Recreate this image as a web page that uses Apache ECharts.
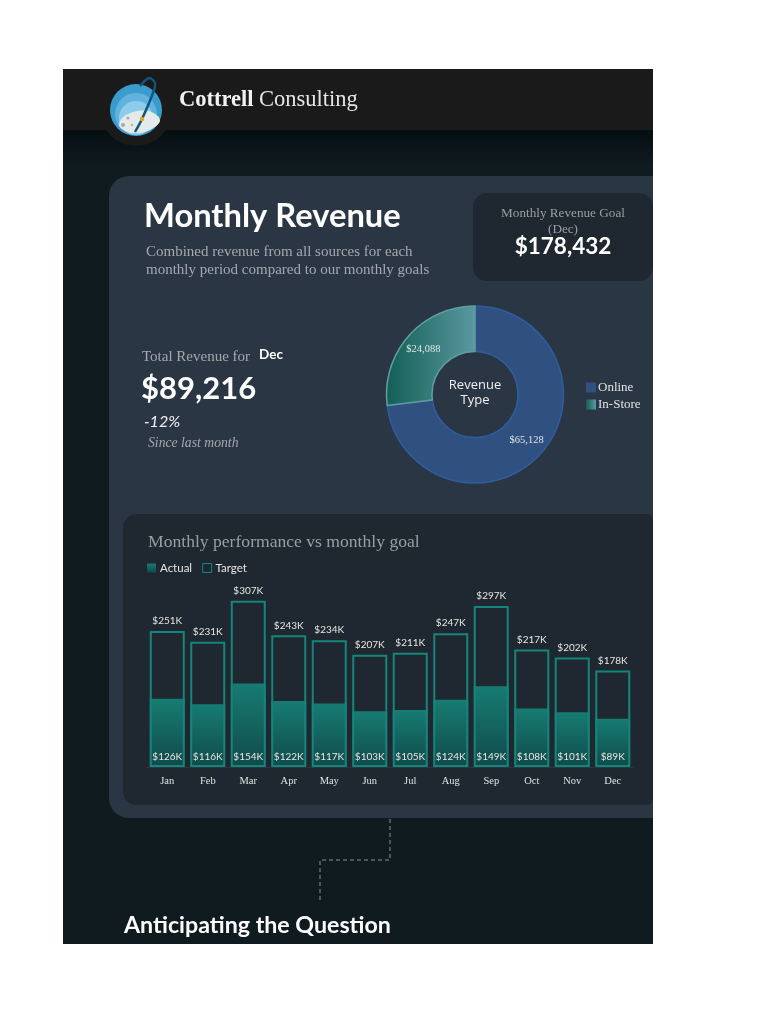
<!DOCTYPE html>
<html>
<head>
<meta charset="utf-8">
<title>Monthly Revenue</title>
<script src="https://cdn.jsdelivr.net/npm/echarts@6/dist/echarts.min.js"></script>
<style>
  html, body { margin: 0; padding: 0; background: #fff; }
  #chart-container { width: 768px; height: 1024px; }
</style>
</head>
<body>
<div id="chart-container"></div>
<script>
const months = ['Jan', 'Feb', 'Mar', 'Apr', 'May', 'Jun', 'Jul', 'Aug', 'Sep', 'Oct', 'Nov', 'Dec'];
const actualValues = [126, 116, 154, 122, 117, 103, 105, 124, 149, 108, 101, 89];
const targetValues = [251, 231, 307, 243, 234, 207, 211, 247, 297, 217, 202, 178];
const revenueTypes = ['Online', 'In-Store'];
const revenueValues = [65128, 24088];

const sansFont = 'Lato, "Open Sans", sans-serif';
const serifFont = '"Liberation Serif", serif';

var dom = document.getElementById('chart-container');
var myChart = echarts.init(dom);

function txt(text, x, y, font, fill, align) {
    return {
        type: 'text',
        z: 5,
        silent: true,
        style: {
            text: text,
            x: x,
            y: y,
            font: font,
            fill: fill,
            textAlign: align || 'left',
            textVerticalAlign: 'middle'
        }
    };
}

function box(x, y, w, h, r, fill) {
    return {
        type: 'rect',
        z: 1,
        silent: true,
        shape: { x: x, y: y, width: w, height: h, r: r },
        style: { fill: fill }
    };
}

function disc(cx, cy, r, fill) {
    return {
        type: 'circle',
        z: 3,
        silent: true,
        shape: { cx: cx, cy: cy, r: r },
        style: { fill: fill }
    };
}

const tealGradient = new echarts.graphic.LinearGradient(0, 0, 0, 1, [
    { offset: 0, color: '#167c72' },
    { offset: 1, color: '#114a4b' }
]);
const storeGradient = new echarts.graphic.LinearGradient(0, 0, 1, 0, [
    { offset: 0, color: '#125f55' },
    { offset: 1, color: '#5b99a1' }
]);

const backgroundParts = [
    box(63, 69, 590, 875, 0, '#101b20'),
    {
        type: 'rect',
        z: 1,
        silent: true,
        shape: { x: 63, y: 130, width: 590, height: 36 },
        style: {
            fill: new echarts.graphic.LinearGradient(0, 0, 0, 1, [
                { offset: 0, color: '#050e11' },
                { offset: 1, color: '#101b20' }
            ])
        }
    },
    box(63, 69, 590, 61, 0, '#1a1a1a'),
    disc(136, 110, 36, '#1a1a1a'),
    box(109, 176, 544, 642, [20, 0, 0, 20], '#2b3645'),
    box(123, 514, 530, 291, [14, 6, 6, 14], '#1f2831'),
    box(473, 193, 180, 88, 14, '#1f2831')
];

// little planet logo in the header
const logoParts = [
    disc(136, 110, 26, '#3a9ccd'),
    disc(136, 114, 21, '#5fb3dd'),
    disc(136, 118, 17, '#8fcbea'),
    {
        type: 'polygon',
        z: 3,
        silent: true,
        shape: { points: [[119, 124], [128, 114], [148, 111], [160, 120], [150, 130], [136, 133], [125, 131]], smooth: 0.4 },
        style: { fill: '#e4e9ea' }
    },
    disc(128, 118, 1.5, '#a9a9a9'),
    disc(123, 125, 2, '#a9a9a9'),
    disc(132, 125, 1.2, '#b5b5b5'),
    {
        type: 'polyline',
        z: 3,
        silent: true,
        shape: { points: [[135, 132], [142, 119], [153, 93], [155, 83], [149, 78], [140, 86]], smooth: 0.3 },
        style: { fill: 'none', stroke: '#10567a', lineWidth: 2.5 }
    },
    disc(142, 119, 2.2, '#e0a32e')
];

const textParts = [
    txt('Cottrell', 179, 100, 'bold 22.5px ' + serifFont, '#f2f2f2'),
    txt('Consulting', 259, 100, '22.5px ' + serifFont, '#e6e6e6'),
    txt('Monthly Revenue', 144, 216, 'bold 32.7px ' + sansFont, '#ffffff'),
    txt('Combined revenue from all sources for each', 146, 252, '15px ' + serifFont, '#a4a8ad'),
    txt('monthly period compared to our monthly goals', 146, 270, '15px ' + serifFont, '#a4a8ad'),
    txt('Monthly Revenue Goal', 563, 214, '13.2px ' + serifFont, '#9a9ea3', 'center'),
    txt('(Dec)', 563, 230, '13.2px ' + serifFont, '#9a9ea3', 'center'),
    txt('$178,432', 563, 247, 'bold 22.5px ' + sansFont, '#ffffff', 'center'),
    txt('Total Revenue for', 142, 357, '15px ' + serifFont, '#a4a8ad'),
    txt('Dec', 259, 355, 'bold 13.5px ' + sansFont, '#ffffff'),
    txt('$89,216', 141, 389, 'bold 31px ' + sansFont, '#ffffff'),
    txt('-12%', 144, 422, 'italic 16px ' + sansFont, '#f0f0f0'),
    txt('Since last month', 148, 443, 'italic 13.7px ' + serifFont, '#a4a8ad'),
    txt('Revenue', 475, 385, '13px "Open Sans", sans-serif', '#f0f0f0', 'center'),
    txt('Type', 475, 400, '13px "Open Sans", sans-serif', '#f0f0f0', 'center'),
    txt('Monthly performance vs monthly goal', 148, 542, '17.6px ' + serifFont, '#9a9ea3'),
    txt('Anticipating the Question', 124, 926, 'bold 23.2px ' + sansFont, '#ffffff')
];

const connector = {
    type: 'polyline',
    z: 2,
    silent: true,
    shape: { points: [[390, 819], [390, 860], [320, 860], [320, 902]] },
    style: { fill: 'none', stroke: '#8a9194', lineWidth: 1, lineDash: [4, 3] }
};

var option = {
    animation: false,
    backgroundColor: '#ffffff',
    graphic: { elements: backgroundParts.concat(logoParts, [connector], textParts) },
    legend: [{
            data: [
                { name: 'Actual' },
                { name: 'Target', itemStyle: { borderWidth: 1, borderColor: '#14857a' } }
            ],
            icon: 'rect',
            left: 147,
            top: 562,
            padding: 0,
            itemWidth: 9,
            itemHeight: 9,
            itemGap: 10,
            textStyle: { color: '#e6e6e6', fontFamily: sansFont, fontSize: 11.5, padding: [0, 0, 0, -1] }
        },
        {
            data: [
                { name: revenueTypes[0], itemStyle: { borderWidth: 0 } },
                { name: revenueTypes[1], itemStyle: { borderWidth: 0 } }
            ],
            icon: 'rect',
            orient: 'vertical',
            left: 586,
            top: 381,
            padding: 0,
            itemWidth: 10,
            itemHeight: 10,
            itemGap: 4,
            textStyle: { color: '#dfe2e5', fontFamily: serifFont, fontSize: 13, padding: [0, 0, 0, -3] }
        }
    ],
    grid: {
        left: 147,
        top: 577.4,
        width: 486,
        height: 189.6
    },
    xAxis: {
        type: 'category',
        data: months,
        z: 6,
        axisLine: { lineStyle: { color: '#2c3640' } },
        axisTick: { length: 5, lineStyle: { color: '#7a838b' } },
        axisLabel: { color: '#dfe2e5', fontFamily: serifFont, fontSize: 10.5, margin: 9 }
    },
    yAxis: {
        type: 'value',
        min: 0,
        max: 350,
        show: false
    },
    series: [{
            name: 'Actual',
            type: 'bar',
            barWidth: 35,
            barGap: '-100%',
            itemStyle: { color: tealGradient },
            label: {
                show: true,
                position: 'insideBottom',
                distance: 5,
                color: '#e6e6e6',
                fontFamily: sansFont,
                fontSize: 10,
                formatter: function(p) { return '$' + p.value + 'K'; }
            },
            data: actualValues,
            z: 7
        },
        {
            name: 'Target',
            type: 'bar',
            barWidth: 35,
            barGap: '-100%',
            itemStyle: { color: 'rgba(0,0,0,0)', borderColor: '#14857a', borderWidth: 2 },
            label: {
                show: true,
                position: 'top',
                distance: 5,
                color: '#e6e6e6',
                fontFamily: sansFont,
                fontSize: 10,
                formatter: function(p) { return '$' + p.value + 'K'; }
            },
            data: targetValues,
            z: 8
        },
        {
            name: 'Revenue Type',
            type: 'pie',
            center: [475, 394.5],
            radius: [43, 88.5],
            startAngle: 90,
            clockwise: true,
            label: {
                position: 'inside',
                color: '#dfe2e5',
                fontFamily: serifFont,
                fontSize: 10.5,
                formatter: function(p) { return '$' + p.value.toLocaleString('en-US'); }
            },
            labelLine: { show: false },
            emphasis: { disabled: true },
            data: [
                { name: revenueTypes[0], value: revenueValues[0], itemStyle: { color: '#30517f', borderColor: '#2e5da0', borderWidth: 1.5 } },
                { name: revenueTypes[1], value: revenueValues[1], itemStyle: { color: storeGradient, borderColor: '#5e9ea3', borderWidth: 1.5 } }
            ],
            z: 4
        }
    ]
};

myChart.setOption(option);
</script>
</body>
</html>
